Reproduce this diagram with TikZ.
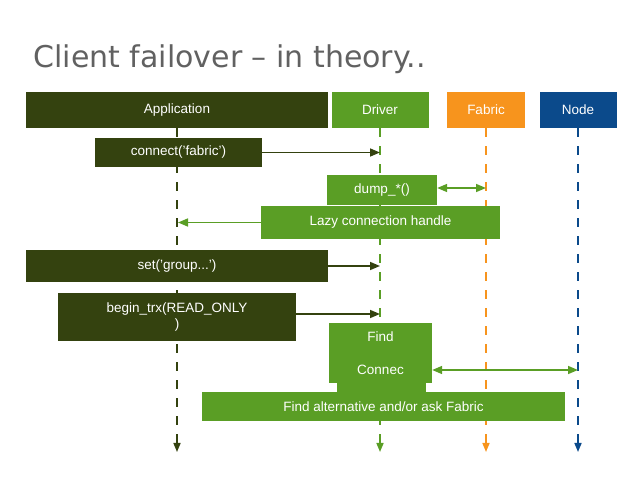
\documentclass[tikz,border=0pt]{standalone}
\usepackage{fontspec}
\setmainfont{Liberation Sans}
\newfontfamily\titlefont{DejaVu Sans}
\usetikzlibrary{arrows.meta}
\definecolor{olive}{HTML}{34420F}
\definecolor{grn}{HTML}{5A9E25}
\definecolor{org}{HTML}{F7941D}
\definecolor{blu}{HTML}{0B4A8B}
\begin{document}
\begin{tikzpicture}[x=1pt,y=-1pt,
  box/.style={fill=#1,text=white,inner sep=0,font=\fontsize{13.5}{16}\selectfont},
  life/.style={draw=#1,line width=1.6pt,dash pattern=on 9pt off 9pt,-{Triangle[width=7pt,length=9pt]}},
  msg/.style={draw=#1,line width=1.6pt,-{Triangle[width=8pt,length=10pt]}},
  dmsg/.style={draw=#1,line width=1.6pt,{Triangle[width=8pt,length=10pt]}-{Triangle[width=8pt,length=10pt]}}]
\useasboundingbox (0,0) rectangle (638,478);
\node[anchor=base west,text=black!62,font=\titlefont\fontsize{30}{34}\selectfont] (title) at (30,68) {Client failover – in theory..};
% headers
\node[box=olive,minimum width=302,minimum height=36] (app) at (177,110) {Application};
\node[box=grn,minimum width=97,minimum height=36] (drv) at (380,110) {Driver};
\node[box=org,minimum width=78,minimum height=36] (fab) at (486,110) {Fabric};
\node[box=blu,minimum width=77,minimum height=36] (nod) at (578,110) {Node};
\coordinate (appE) at (177,452); \coordinate (drvE) at (380,452);
\coordinate (fabE) at (486,452); \coordinate (nodE) at (578,452);
\draw[life=olive] (app.south) -- (appE);
\draw[life=grn] (drv.south) -- (drvE);
\draw[life=org] (fab.south) -- (fabE);
\draw[life=blu] (nod.south) -- (nodE);
% messages
\node[box=olive,minimum width=167,minimum height=29] (con) at (178.5,152.5) {connect('fabric')};
\coordinate (c1) at (380,152.5);
\draw[msg=olive] (con.east) -- (c1);
\node[box=grn,minimum width=110,minimum height=30] (dump) at (382,190) {dump\_*()};
\coordinate (c2) at (486,188);
\draw[dmsg=grn] (dump.east|-c2) -- (c2);
\node[box=grn,minimum width=239,minimum height=33] (lazy) at (380.5,222.5) {Lazy connection handle};
\coordinate (c3) at (178,222.5);
\draw[msg=grn] (lazy.west) -- (c3);
\node[box=olive,minimum width=302,minimum height=32] (set) at (177,266) {set('group...')};
\coordinate (c4) at (380,266);
\draw[msg=olive] (set.east) -- (c4);
\node[box=olive,minimum width=238,minimum height=48,align=center] (beg) at (177,317) {begin\_trx(READ\_ONLY\\)};
\coordinate (c5) at (380,314);
\draw[msg=olive] (beg.east|-c5) -- (c5);
\node[box=grn,minimum width=89,minimum height=12] (fcb) at (381.5,387) {};
\node[box=grn,minimum width=103,minimum height=60,align=center,font=\fontsize{13.5}{33}\selectfont] (fc) at (380.5,353) {Find\\Connec};
\coordinate (c6) at (578,370);
\draw[dmsg=grn] (fc.east|-c6) -- (c6);
\node[box=grn,minimum width=363,minimum height=29] (alt) at (383.5,406.5) {Find alternative and/or ask Fabric};
\end{tikzpicture}
\end{document}
